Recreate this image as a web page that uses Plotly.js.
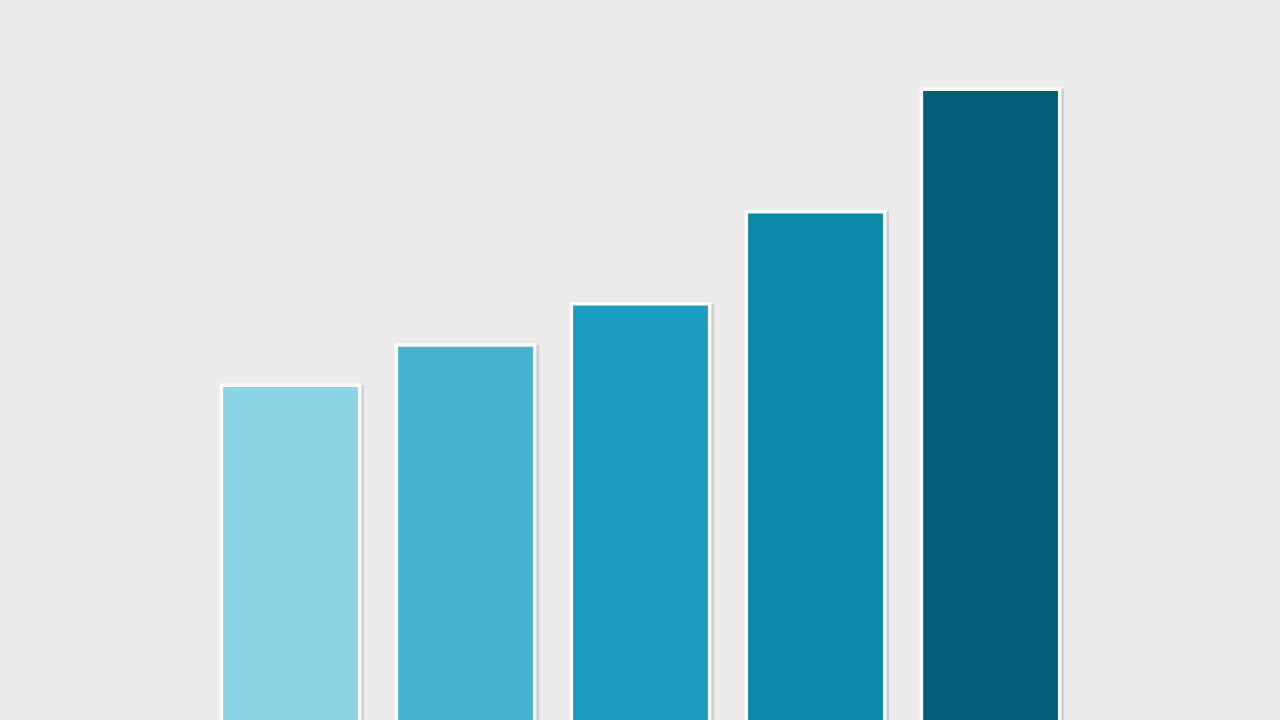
<!DOCTYPE html>
<html>
<head>
<meta charset="utf-8">
<script src="https://cdn.plot.ly/plotly-3.0.1.min.js"></script>
<style>
  html, body { margin: 0; padding: 0; background: #ebebeb; }
  #chart { width: 1280px; height: 720px; }
</style>
</head>
<body>
<div id="chart"></div>
<script>
const categories = ["A", "B", "C", "D", "E"];
const values = [46.5, 52.1, 57.8, 70.6, 87.6];
const barColors = ["#8bd5e6", "#43b3cf", "#1a9cc1", "#0887a6", "#035e7a"];

const barWidth = 0.79;

const shadow = {
  type: "bar",
  x: categories,
  y: values.map(v => v + 1),
  base: -1,
  width: barWidth,
  offset: -barWidth / 2 + 0.025,
  marker: { color: "rgba(0,0,0,0.12)", line: { width: 0 } },
  hoverinfo: "skip",
  showlegend: false
};

const bars = {
  type: "bar",
  x: categories,
  y: values.map(v => v + 1),
  base: -1,
  width: barWidth,
  marker: { color: barColors, line: { color: "#ffffff", width: 3.5 } },
  showlegend: false
};

const layout = {
  width: 1280,
  height: 720,
  margin: { l: 0, r: 0, t: 0, b: 0 },
  paper_bgcolor: "#ebebeb",
  plot_bgcolor: "#ebebeb",
  barmode: "overlay",
  xaxis: {
    type: "category",
    range: [-1.66, 5.654],
    showticklabels: false,
    showgrid: false,
    zeroline: false,
    showline: false,
    ticks: ""
  },
  yaxis: {
    range: [0, 100],
    showticklabels: false,
    showgrid: false,
    zeroline: false,
    showline: false,
    ticks: ""
  }
};

Plotly.newPlot("chart", [shadow, bars], layout, { displayModeBar: false, staticPlot: true });
</script>
</body>
</html>
